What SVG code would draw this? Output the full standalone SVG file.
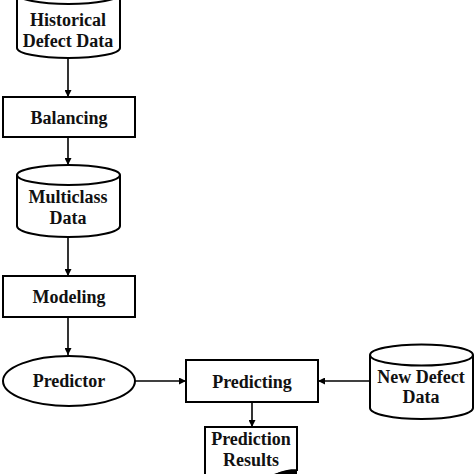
<svg xmlns="http://www.w3.org/2000/svg" width="474" height="474" viewBox="0 0 474 474">
<defs>
<marker id="arr" viewBox="0 0 10 10" refX="10" refY="5" markerWidth="7" markerHeight="7" markerUnits="userSpaceOnUse" orient="auto">
<path d="M0,0 L10,5 L0,10 z" fill="#000"/>
</marker>
<style>
.s{fill:#fff;stroke:#000;stroke-width:2}
.t{font-family:"Liberation Serif","Times New Roman",serif;font-weight:bold;font-size:18px;fill:#111;text-anchor:middle}
.c{stroke:#000;stroke-width:1.6;fill:none;marker-end:url(#arr)}
</style>
</defs>
<rect width="474" height="474" fill="#fff"/>
<g id="connectors">
<line class="c" x1="68" y1="58" x2="68" y2="97"/>
<line class="c" x1="68" y1="137" x2="68" y2="165"/>
<line class="c" x1="68" y1="237" x2="68" y2="276"/>
<line class="c" x1="68" y1="317" x2="68" y2="355"/>
<line class="c" x1="135" y1="381" x2="186" y2="381"/>
<line class="c" x1="370" y1="381" x2="318" y2="381"/>
<line class="c" x1="252" y1="402" x2="252" y2="427"/>
</g>
<g id="historical">
<path class="s" d="M17,-6 V48 A51.5,10 0 0 0 120,48 V-6"/>
<ellipse class="s" cx="68.5" cy="-6" rx="51.5" ry="10"/>
<text class="t" x="68" y="26">Historical</text>
<text class="t" x="68" y="47">Defect Data</text>
</g>
<g id="balancing">
<rect class="s" x="3" y="97" width="132" height="40"/>
<text class="t" x="69" y="124">Balancing</text>
</g>
<g id="multiclass">
<path class="s" d="M17,175 V226 A51.5,11 0 0 0 120,226 V175"/>
<ellipse class="s" cx="68.5" cy="175" rx="51.5" ry="10"/>
<text class="t" x="68" y="203">Multiclass</text>
<text class="t" x="68" y="224">Data</text>
</g>
<g id="modeling">
<rect class="s" x="3" y="276" width="132" height="41"/>
<text class="t" x="69" y="303">Modeling</text>
</g>
<g id="predictor">
<ellipse class="s" cx="69" cy="381" rx="66" ry="25"/>
<text class="t" x="69" y="387">Predictor</text>
</g>
<g id="predicting">
<rect class="s" x="186" y="360" width="132" height="42"/>
<text class="t" x="252" y="388">Predicting</text>
</g>
<g id="newdefect">
<path class="s" d="M370,355 V408 A51.5,11 0 0 0 473,408 V355"/>
<ellipse class="s" cx="421.5" cy="355" rx="51.5" ry="10.5"/>
<text class="t" x="421" y="383">New Defect</text>
<text class="t" x="421" y="403">Data</text>
</g>
<g id="results">
<path class="s" d="M205,478 V427 H297 V470 C288,470 280,472 272,477"/>
<path d="M274,474 C281,471.5 289,470 297,470 V474 Z" fill="#000"/>
<text class="t" x="251" y="445">Prediction</text>
<text class="t" x="251" y="466">Results</text>
</g>
</svg>
